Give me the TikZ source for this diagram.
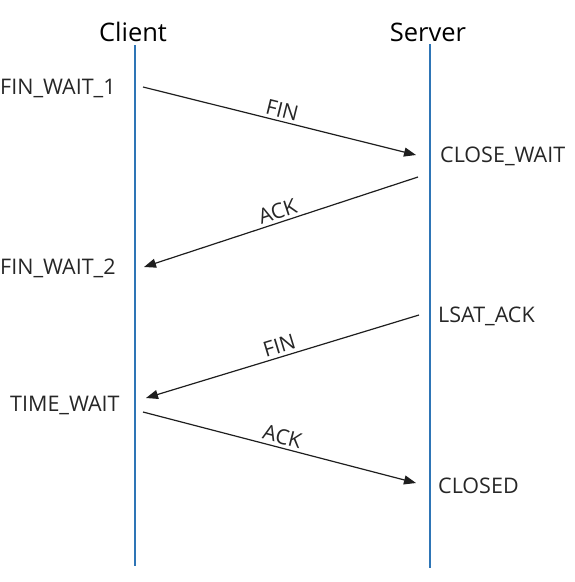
\documentclass[tikz,border=0pt]{standalone}
\usepackage{fontspec}
\setmainfont{Open Sans}
\usetikzlibrary{arrows.meta}
\definecolor{lifeblue}{RGB}{46,117,182}
\definecolor{msggray}{RGB}{30,30,30}
\begin{document}
\begin{tikzpicture}[x=1pt,y=-1pt,
  actor/.style={font=\fontsize{25.5}{28}\selectfont, inner sep=0pt},
  state/.style={font=\fontsize{21.5}{24}\selectfont, inner sep=0pt, text=black!85},
  lifeline/.style={draw=lifeblue, line width=2.4pt},
  msg/.style={draw=msggray, line width=1.2pt, -{Triangle[length=12pt,width=9pt]}},
  msglabel/.style={font=\fontsize{21}{22}\selectfont, sloped, above, inner sep=3pt, text=black!85}]
\useasboundingbox (0,0) rectangle (575,582);
% actors
\node[actor] (client) at (133,32) {Client};
\node[actor] (server) at (428,32) {Server};
% lifelines
\coordinate (ctop) at (135,45);
\coordinate (cbot) at (135,566);
\coordinate (stop) at (430,44);
\coordinate (sbot) at (430,568);
\draw[lifeline] (ctop) -- (cbot);
\draw[lifeline] (stop) -- (sbot);
% states
\node[state, anchor=west] (fw1) at (0,88) {FIN\_WAIT\_1};
\node[state, anchor=west] (fw2) at (0,268) {FIN\_WAIT\_2};
\node[state, anchor=west] (tw) at (10,405) {TIME\_WAIT};
\node[state, anchor=west] (cw) at (440,156) {CLOSE\_WAIT};
\node[state, anchor=west] (la) at (438,316) {LSAT\_ACK};
\node[state, anchor=west] (cl) at (438,486) {CLOSED};
% message endpoints
\coordinate (m1s) at (143,87);
\coordinate (m1e) at (416,155);
\coordinate (m2s) at (418,177);
\coordinate (m2e) at (144,267);
\coordinate (m3s) at (419,315);
\coordinate (m3e) at (146,398);
\coordinate (m4s) at (143,412);
\coordinate (m4e) at (416,483);
% messages
\draw[msg] (m1s) -- node[msglabel] (l1) {FIN} (m1e);
\draw[msg] (m2s) -- node[msglabel] (l2) {ACK} (m2e);
\draw[msg] (m3s) -- node[msglabel] (l3) {FIN} (m3e);
\draw[msg] (m4s) -- node[msglabel] (l4) {ACK} (m4e);
\end{tikzpicture}
\end{document}
